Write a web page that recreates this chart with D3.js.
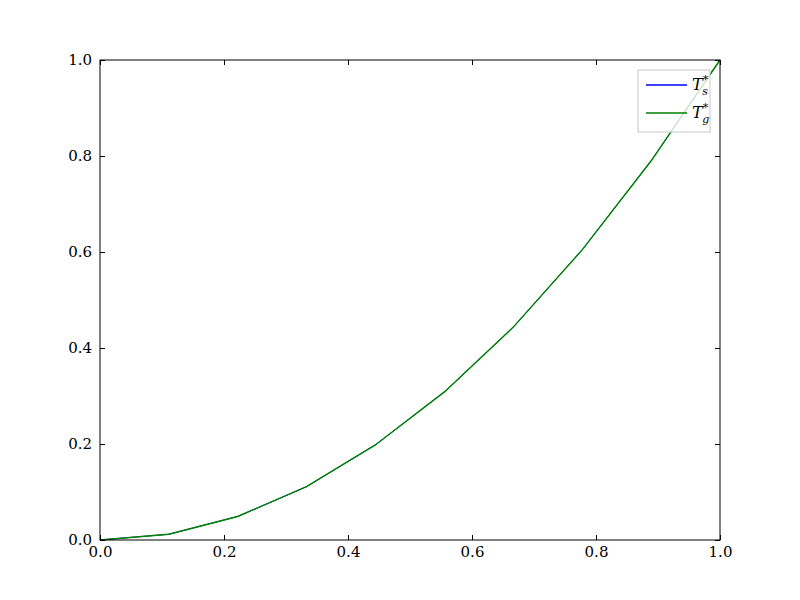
<!DOCTYPE html>
<html>
<head>
<meta charset="utf-8">
<script src="https://cdn.jsdelivr.net/npm/d3@7"></script>
<style>
  body { margin: 0; background: #fff; }
  text { font-family: "DejaVu Serif", serif; }
</style>
</head>
<body>
<div id="chart"></div>
<script>
// values
const xValues = [0, 0.111, 0.222, 0.333, 0.444, 0.556, 0.667, 0.778, 0.889, 1.0];
const tsValues = [0, 0.012, 0.049, 0.111, 0.198, 0.309, 0.444, 0.605, 0.790, 1.0];
const tgValues = [0, 0.012, 0.049, 0.111, 0.198, 0.309, 0.444, 0.605, 0.790, 1.0];
const xTicks = [0, 0.2, 0.4, 0.6, 0.8, 1.0];
const yTicks = [0, 0.2, 0.4, 0.6, 0.8, 1.0];
const seriesNames = [{ base: "T", sub: "s" }, { base: "T", sub: "g" }];
const seriesColors = ["#0000ff", "#008000"];

const width = 800, height = 600;
const margin = { top: 60, right: 80, bottom: 60, left: 100 };

const svg = d3.select('#chart').append('svg')
  .attr('width', width).attr('height', height);

const xScale = d3.scaleLinear().domain([0, 1]).range([margin.left, width - margin.right]);
const yScale = d3.scaleLinear().domain([0, 1]).range([height - margin.bottom, margin.top]);

const line = d3.line().x((d, i) => xScale(xValues[i])).y(d => yScale(d));

// series
[tsValues, tgValues].forEach((vals, i) => {
  svg.append('path')
    .datum(vals)
    .attr('d', line)
    .attr('fill', 'none')
    .attr('stroke', seriesColors[i])
    .attr('stroke-width', i === 0 ? 1 : 1.4);
});

// axes: classic style, ticks pointing inward on all four sides
const fmt = d3.format('.1f');
const axBottom = svg.append('g')
  .attr('transform', `translate(0,${height - margin.bottom})`)
  .call(d3.axisBottom(xScale).tickValues(xTicks).tickFormat(fmt).tickSizeInner(-5).tickSizeOuter(0).tickPadding(6));
const axTop = svg.append('g')
  .attr('transform', `translate(0,${margin.top})`)
  .call(d3.axisTop(xScale).tickValues(xTicks).tickFormat('').tickSizeInner(-5).tickSizeOuter(0));
const axLeft = svg.append('g')
  .attr('transform', `translate(${margin.left},0)`)
  .call(d3.axisLeft(yScale).tickValues(yTicks).tickFormat(fmt).tickSizeInner(-5).tickSizeOuter(0).tickPadding(8));
const axRight = svg.append('g')
  .attr('transform', `translate(${width - margin.right},0)`)
  .call(d3.axisRight(yScale).tickValues(yTicks).tickFormat('').tickSizeInner(-5).tickSizeOuter(0));

[axBottom, axTop, axLeft, axRight].forEach(g => {
  g.select('.domain').remove();
  g.selectAll('line').attr('stroke', '#000');
  g.selectAll('text').attr('font-size', 15).attr('fill', '#000')
    .attr('font-family', '"DejaVu Serif", serif');
});

// frame
svg.append('rect')
  .attr('x', margin.left).attr('y', margin.top)
  .attr('width', width - margin.left - margin.right)
  .attr('height', height - margin.top - margin.bottom)
  .attr('fill', 'none').attr('stroke', '#000').attr('stroke-width', 1);

// legend
const legend = svg.append('g').attr('transform', 'translate(638,70)');
legend.append('rect')
  .attr('width', 72).attr('height', 62)
  .attr('fill', '#fff').attr('fill-opacity', 0.8)
  .attr('stroke', '#c8c8c8').attr('stroke-width', 1);

const items = legend.selectAll('g.item')
  .data(seriesNames)
  .join('g')
  .attr('class', 'item')
  .attr('transform', (d, i) => `translate(0,${15 + i * 28})`);

items.append('line')
  .attr('x1', 8).attr('x2', 49).attr('y1', 0).attr('y2', 0)
  .attr('stroke', (d, i) => seriesColors[i]).attr('stroke-width', 1.4);

const label = items.append('text')
  .attr('x', 54).attr('y', 5)
  .attr('font-size', 16)
  .attr('font-style', 'italic')
  .attr('font-family', '"DejaVu Serif", serif');
label.append('tspan').text(d => d.base);
label.append('tspan').attr('dy', -7).attr('font-size', 11).attr('font-style', 'normal').text('*');
label.append('tspan').attr('dx', -6).attr('dy', 12).attr('font-size', 11).text(d => d.sub);
</script>
</body>
</html>
